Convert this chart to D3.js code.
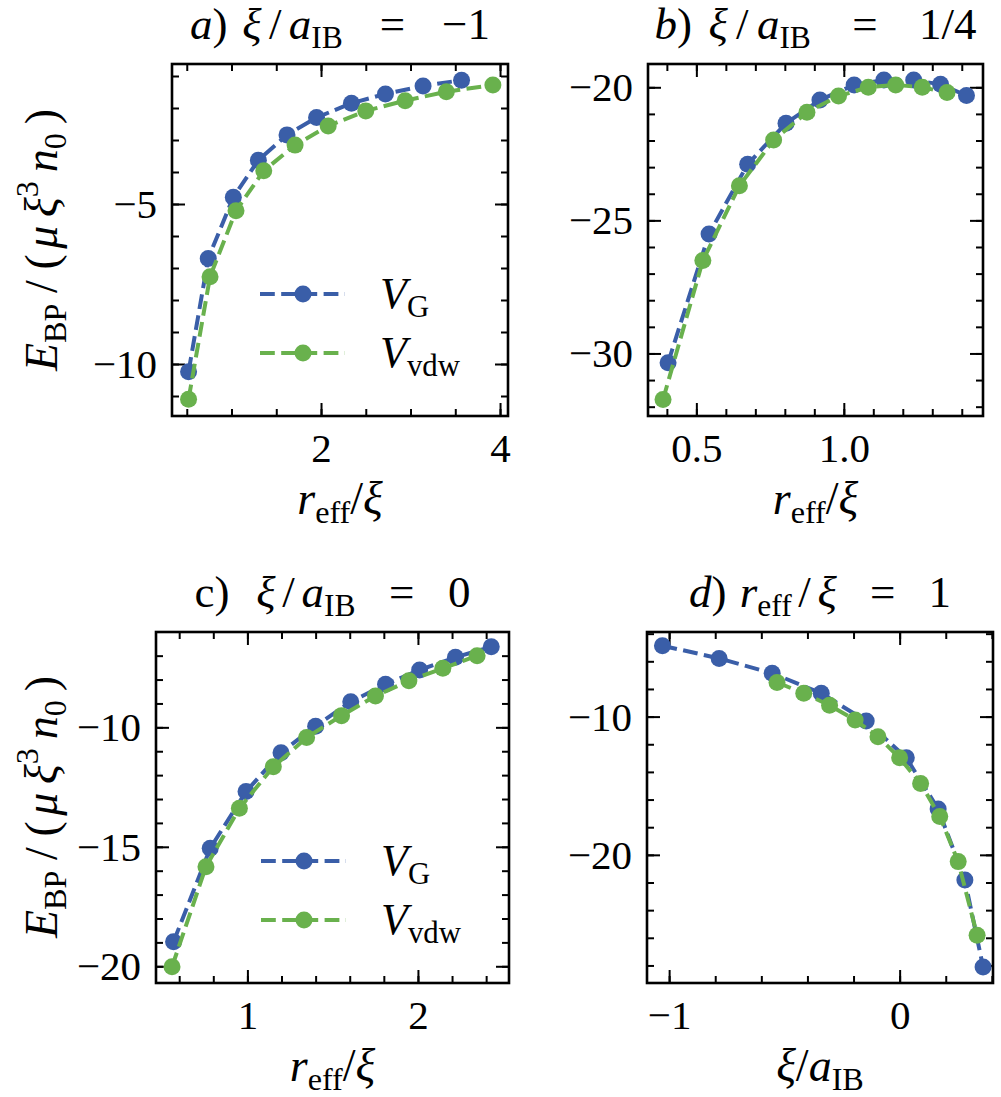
<!DOCTYPE html>
<html>
<head>
<meta charset="utf-8">
<script src="https://cdn.jsdelivr.net/npm/d3@7"></script>
<style>
body { margin: 0; background: #fff; }
</style>
</head>
<body>
<svg id="fig" width="1001" height="1097"></svg>
<script>
// panel a) xi/a_IB = -1
var aXg = [0.52, 0.74, 1.02, 1.30, 1.62, 1.95, 2.34, 2.72, 3.14, 3.57];
var aYg = [-10.24, -6.70, -4.79, -3.63, -2.84, -2.30, -1.85, -1.56, -1.31, -1.13];
var aXv = [0.52, 0.76, 1.05, 1.36, 1.71, 2.08, 2.50, 2.94, 3.40, 3.92];
var aYv = [-11.10, -7.27, -5.21, -3.96, -3.16, -2.56, -2.09, -1.77, -1.49, -1.28];
// panel b) xi/a_IB = 1/4
var bXg = [0.404, 0.543, 0.674, 0.804, 0.919, 1.035, 1.136, 1.237, 1.328, 1.416];
var bYg = [-30.35, -25.51, -22.89, -21.35, -20.48, -19.91, -19.73, -19.73, -19.89, -20.31];
var bXv = [0.387, 0.522, 0.646, 0.762, 0.875, 0.982, 1.083, 1.176, 1.266, 1.350];
var bYv = [-31.73, -26.51, -23.70, -21.98, -20.94, -20.33, -20.00, -19.91, -20.00, -20.20];
// panel c) xi/a_IB = 0
var cXg = [0.567, 0.782, 0.992, 1.197, 1.400, 1.606, 1.810, 2.010, 2.220, 2.430];
var cYg = [-18.97, -15.06, -12.69, -11.06, -9.95, -8.93, -8.20, -7.60, -7.07, -6.63];
var cXv = [0.558, 0.757, 0.953, 1.152, 1.347, 1.552, 1.751, 1.947, 2.146, 2.347];
var cYv = [-20.02, -15.83, -13.39, -11.65, -10.43, -9.51, -8.69, -8.05, -7.53, -7.00];
// panel d) r_eff/xi = 1
var dXg = [-1.029, -0.783, -0.553, -0.340, -0.145, 0.029, 0.167, 0.283, 0.362];
var dYg = [-4.87, -5.79, -6.86, -8.31, -10.32, -12.98, -16.68, -21.82, -28.11];
var dXv = [-0.532, -0.416, -0.304, -0.193, -0.094, 0.000, 0.091, 0.174, 0.254, 0.336];
var dYv = [-7.53, -8.31, -9.18, -10.25, -11.45, -12.98, -14.84, -17.22, -20.49, -25.81];

// tick labels
var aXt = [2, 4],     aYt = [-10, -5];
var bXt = [0.5, 1.0], bYt = [-30, -25, -20];
var cXt = [1, 2],     cYt = [-20, -15, -10];
var dXt = [-1, 0],    dYt = [-20, -10];

var blue = "#3a5ea8", green = "#69b14d";
var fs = 41;

var svg = d3.select("#fig");

// math-ish text: italic variables, roman sub/superscripts,
// extra room spread over the gaps (w) so the width matches the figure
function rich(text, parts, size, target) {
    var cur = 0, spans = [];
    parts.forEach(function(p) {
        var off = p.s ? 0.2 * size : (p.u ? -0.42 * size : 0);
        spans.push([text.append("tspan")
            .attr("dy", off - cur)
            .attr("font-size", (p.s || p.u) ? 0.7 * size : size)
            .attr("font-style", p.i ? "italic" : "normal")
            .text(p.t), p.w || 0]);
        cur = off;
    });
    if (target) {
        var wsum = d3.sum(spans, function(s) { return s[1]; });
        var extra = Math.max(0, target - text.node().getComputedTextLength());
        if (wsum) spans.forEach(function(s) { if (s[1]) s[0].attr("dx", extra * s[1] / wsum); });
    }
}

function minus(v, f) { return f(v).replace("-", "\u2212"); }

function minors(dom, step) {
    var lo = Math.ceil(dom[0] / step - 1e-9), hi = Math.floor(dom[1] / step + 1e-9);
    return d3.range(lo, hi + 1).map(function(k) { return +(k * step).toFixed(6); });
}

var reffXi = [{t: "r", i: 1}, {t: "eff", s: 1}, {t: "/"}, {t: "\u03be", i: 1}];
var xiAib = [{t: "\u03be", i: 1, w: 0.6}, {t: "/", w: 0.3}, {t: "a", i: 1, w: 0.3}, {t: "IB", s: 1}];
var yLab = [{t: "E", i: 1}, {t: "BP", s: 1}, {t: "/", w: 0.6}, {t: "(", w: 0.6}, {t: "\u03bc", i: 1, w: 0.3},
            {t: "\u03be", i: 1, w: 0.5}, {t: "3", u: 1}, {t: "n", i: 1, w: 0.5}, {t: "0", s: 1}, {t: ")", w: 0.5}];

var panels = [
    {x0: 172, x1: 508, y0: 64, y1: 416, xd: [0.335, 4.089], yd: [-11.625, -0.625],
     xt: aXt, yt: aYt, xm: 0.5, ym: 1, fx: d3.format("d"),
     g: [aXg, aYg], v: [aXv, aYv], legend: true, xl: reffXi,
     title: [{t: "a", i: 1}, {t: ")"}].concat(xiAib, [{t: "=", w: 1.5}, {t: "\u22121", w: 1.5}]), tLen: 300},
    {x0: 648, x1: 983, y0: 64, y1: 416, xd: [0.336, 1.472], yd: [-32.35, -19.125],
     xt: bXt, yt: bYt, xm: 0.1, ym: 1, fx: d3.format(".1f"),
     g: [bXg, bYg], v: [bXv, bYv], legend: false, xl: reffXi,
     title: [{t: "b", i: 1}, {t: ")"}].concat(xiAib, [{t: "=", w: 1.5}, {t: "1/4", w: 1.5}]), tLen: 322},
    {x0: 156, x1: 509, y0: 632, y1: 983, xd: [0.464, 2.534], yd: [-20.70, -6.01],
     xt: cXt, yt: cYt, xm: 0.2, ym: 1, fx: d3.format("d"),
     g: [cXg, cYg], v: [cXv, cYv], legend: true, xl: reffXi,
     title: [{t: "c)"}, {t: "\u03be", i: 1, w: 1.2}, {t: "/", w: 0.3}, {t: "a", i: 1, w: 0.3}, {t: "IB", s: 1},
             {t: "=", w: 1.5}, {t: "0", w: 1.5}], tLen: 276},
    {x0: 647, x1: 993, y0: 632, y1: 983, xd: [-1.096, 0.405], yd: [-29.27, -3.88],
     xt: dXt, yt: dYt, xm: 0.2, ym: 2, fx: d3.format("d"),
     g: [dXg, dYg], v: [dXv, dYv], legend: false, xl: xiAib,
     title: [{t: "d", i: 1}, {t: ")"}, {t: "r", i: 1, w: 0.6}, {t: "eff", s: 1}, {t: "/", w: 0.3}, {t: "\u03be", i: 1, w: 0.3},
             {t: "=", w: 1.5}, {t: "1", w: 1.5}], tLen: 262}
];

panels.forEach(function(p) {
    var x = d3.scaleLinear().domain(p.xd).range([p.x0, p.x1]);
    var y = d3.scaleLinear().domain(p.yd).range([p.y1, p.y0]);
    var fy = d3.format("d");
    var g = svg.append("g");

    // ticks, all pointing inward
    function ticks(axis, tx, ty, vals, size, labels) {
        var a = g.append("g").attr("transform", "translate(" + tx + "," + ty + ")")
            .call(axis.tickValues(vals).tickSize(-size).tickSizeOuter(0)
                .tickFormat(labels || function() { return ""; }));
        a.attr("font-family", null).attr("font-size", fs);
        a.select(".domain").remove();
        a.selectAll("line").attr("stroke", "#000").attr("stroke-width", 2);
        a.selectAll("text").attr("fill", "#000");
        return a;
    }
    ticks(d3.axisBottom(x), 0, p.y1, minors(p.xd, p.xm), 7);
    ticks(d3.axisTop(x), 0, p.y0, minors(p.xd, p.xm), 7);
    ticks(d3.axisLeft(y), p.x0, 0, minors(p.yd, p.ym), 7);
    ticks(d3.axisRight(y), p.x1, 0, minors(p.yd, p.ym), 7);
    ticks(d3.axisTop(x), 0, p.y0, p.xt, 13);
    ticks(d3.axisRight(y), p.x1, 0, p.yt, 13);
    var bx = ticks(d3.axisBottom(x), 0, p.y1, p.xt, 13, function(d) { return minus(d, p.fx); });
    bx.selectAll("text").attr("y", 45.5).attr("dy", 0);
    var ly = ticks(d3.axisLeft(y), p.x0, 0, p.yt, 13, function(d) { return minus(d, fy); });
    ly.selectAll("text").attr("x", -15).attr("dy", "0.33em");

    // series
    var line = d3.line().x(function(d) { return x(d[0]); }).y(function(d) { return y(d[1]); });
    [[p.g, blue], [p.v, green]].forEach(function(s) {
        var pts = d3.zip(s[0][0], s[0][1]);
        g.append("path").datum(pts).attr("d", line)
            .attr("fill", "none").attr("stroke", s[1]).attr("stroke-width", 4)
            .attr("stroke-dasharray", "14.8,6.4");
        g.selectAll(null).data(pts).enter().append("circle")
            .attr("cx", function(d) { return x(d[0]); })
            .attr("cy", function(d) { return y(d[1]); })
            .attr("r", 8.5).attr("fill", s[1]);
    });

    // frame
    g.append("rect").attr("x", p.x0).attr("y", p.y0)
        .attr("width", p.x1 - p.x0).attr("height", p.y1 - p.y0)
        .attr("fill", "none").attr("stroke", "#000").attr("stroke-width", 2.6);

    // legend
    if (p.legend) {
        [[blue, [{t: "V", i: 1}, {t: "G", s: 1}], -122], [green, [{t: "V", i: 1}, {t: "vdw", s: 1}], -63]]
        .forEach(function(l) {
            var ly0 = p.y1 + l[2];
            g.append("line").attr("x1", p.x1 - 248).attr("x2", p.x1 - 163)
                .attr("y1", ly0).attr("y2", ly0).attr("stroke", l[0]).attr("stroke-width", 4)
                .attr("stroke-dasharray", "14.8,6.4");
            g.append("circle").attr("cx", p.x1 - 205).attr("cy", ly0).attr("r", 8.5).attr("fill", l[0]);
            rich(g.append("text").attr("x", p.x1 - 128).attr("y", ly0 + 14), l[1], 44);
        });
    }

    // title and x label
    rich(g.append("text").attr("x", (p.x0 + p.x1) / 2).attr("y", p.y0 - 25)
        .attr("text-anchor", "middle"), p.title, 45, p.tLen);
    rich(g.append("text").attr("x", (p.x0 + p.x1) / 2).attr("y", p.y1 + 98)
        .attr("text-anchor", "middle"), p.xl, 46);
});

// shared y labels
[240, 807].forEach(function(cy) {
    rich(svg.append("text").attr("transform", "translate(57," + cy + ") rotate(-90)")
        .attr("text-anchor", "middle"), yLab, 46, 262);
});
</script>
</body>
</html>
